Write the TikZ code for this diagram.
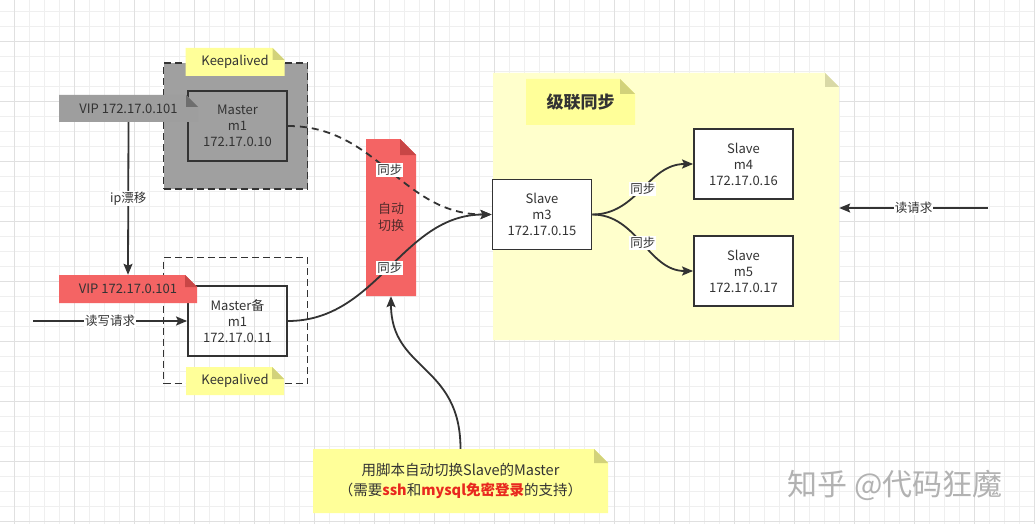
\documentclass[tikz,border=0pt]{standalone}
\usepackage{fontspec}
\setmainfont{Noto Sans CJK SC}
\usetikzlibrary{arrows.meta}

\definecolor{ink}{HTML}{333333}
\definecolor{gridminor}{HTML}{EFEFEF}
\definecolor{gridmajor}{HTML}{E0E0E0}
\definecolor{hagray}{HTML}{A0A0A0}
\definecolor{vipgray}{HTML}{9E9E9E}
\definecolor{vipgrayfold}{HTML}{6E6E6E}
\definecolor{vipred}{HTML}{F46464}
\definecolor{vipredfold}{HTML}{C84646}
\definecolor{paleyel}{HTML}{FFFFCC}
\definecolor{paleyelfold}{HTML}{D9D9A6}
\definecolor{noteyel}{HTML}{FFFF99}
\definecolor{noteyelfold}{HTML}{D2D27A}
\definecolor{keyred}{HTML}{E8281E}

\def\notefold{12pt}
\tikzset{
  notefold/.code={\def\notefold{#1}},
  note/.style 2 args={inner sep=0pt, text=ink, path picture={
      \fill[#1] (path picture bounding box.north west)
        -- ([xshift=-\notefold]path picture bounding box.north east)
        -- ([yshift=-\notefold]path picture bounding box.north east)
        -- (path picture bounding box.south east)
        -- (path picture bounding box.south west) -- cycle;
      \fill[#2] ([xshift=-\notefold]path picture bounding box.north east)
        -- ([xshift=-\notefold,yshift=-\notefold]path picture bounding box.north east)
        -- ([yshift=-\notefold]path picture bounding box.north east) -- cycle;}},
  server/.style={draw=ink, line width=1.8pt, minimum width=99pt, minimum height=70pt,
    align=center, text=ink, font=\fontsize{13}{16}\selectfont},
  hagroup/.style={draw=ink, dash pattern=on 7pt off 4pt, line width=1.8pt,
    minimum width=144pt, minimum height=126pt},
  link/.style={draw=ink, line width=1.8pt, -{Stealth[length=11pt,width=9pt,inset=2pt]}},
  tag/.style={fill=white, inner sep=1pt, text=ink, font=\fontsize{12.5}{14}\selectfont},
}

\begin{document}
\begin{tikzpicture}[x=1pt, y=-1pt, line cap=butt, line join=miter]

  %% ════ 画布 + 网格 ════
  \fill[white] (0,0) rectangle (1035,524);
  \foreach \gx in {14,29,...,1034} \draw[gridminor, line width=0.6pt] (\gx,0) -- (\gx,524);
  \foreach \gy in {11,26,...,524} \draw[gridminor, line width=0.6pt] (0,\gy) -- (1035,\gy);
  \foreach \gx in {14,74,...,1034} \draw[gridmajor, line width=0.7pt] (\gx,0) -- (\gx,524);
  \foreach \gy in {41,101,...,524} \draw[gridmajor, line width=0.7pt] (0,\gy) -- (1035,\gy);

  %% ════ 主库 Keepalived 组 ════
  \node[hagroup, fill=hagray] (haTop) at (235.5,126) {};
  \node[server, fill=hagray] (m1) at (237.5,126) {Master\\m1\\172.17.0.10};
  \node[note={noteyel}{noteyelfold}, minimum width=99pt, minimum height=28pt,
        font=\fontsize{13}{15}\selectfont] (kaTop) at (235,62) {Keepalived};

  \node[hagroup] (haBot) at (235.5,320.5) {};
  \node[server] (mb) at (237.5,321) {Master备\\m1\\172.17.0.11};
  \node[note={noteyel}{noteyelfold}, minimum width=98pt, minimum height=28pt,
        font=\fontsize{13}{15}\selectfont] (kaBot) at (235,381) {Keepalived};

  %% ════ VIP ════
  \node[note={vipgray}{vipgrayfold}, minimum width=139pt, minimum height=27pt,
        font=\fontsize{13}{15}\selectfont] (vipTop) at (128.5,108.5) {VIP 172.17.0.101};
  \node[note={vipred}{vipredfold}, minimum width=138pt, minimum height=28pt,
        font=\fontsize{13}{15}\selectfont] (vipBot) at (128,289) {VIP 172.17.0.101};
  \draw[link] (vipTop.south) -- node[tag] {ip漂移} (vipBot.north);

  \coordinate (rwIn) at (33,321);
  \draw[link] (rwIn) -- node[tag] {读写请求} (mb.west);

  %% ════ 自动切换 ════
  \node[note={vipred}{vipredfold}, notefold=16pt, minimum width=50pt, minimum height=157pt,
        align=center, text=ink!85!red, font=\fontsize{13}{17}\selectfont] (auto) at (391,217.5) {自动\\切换};

  %% ════ 级联同步 ════
  \node[note={paleyel}{paleyelfold}, notefold=14pt, minimum width=346pt, minimum height=267pt] (cascade) at (666,206.5) {};
  \node[note={noteyel}{noteyelfold}, notefold=15pt, minimum width=109pt, minimum height=46pt,
        font=\bfseries\fontsize{17}{20}\selectfont] (cascadeTitle) at (580.5,102) {级联同步};

  \node[server, fill=white] (m3) at (542,214.5) {Slave\\m3\\172.17.0.15};
  \node[server, fill=white] (m4) at (743.5,164) {Slave\\m4\\172.17.0.16};
  \node[server, fill=white] (m5) at (743.5,271) {Slave\\m5\\172.17.0.17};

  \draw[link, dash pattern=on 7pt off 5pt] (m1.east) .. controls +(90,0) and +(-90,0) .. node[tag] {同步} (m3.west);
  \draw[link] (mb.east) .. controls +(90,0) and +(-90,0) .. node[tag] {同步} (m3.west);
  \draw[link] (m3.east) .. controls +(45,0) and +(-45,0) .. node[tag] {同步} (m4.west);
  \draw[link] (m3.east) .. controls +(45,0) and +(-45,0) .. node[tag] {同步} (m5.west);

  \coordinate (rdIn) at (988,208);
  \draw[link] (rdIn) -- node[tag] {读请求} (rdIn -| cascade.east);

  %% ════ 脚本说明 ════
  \node[note={noteyel}{noteyelfold}, notefold=14pt, minimum width=295pt, minimum height=64pt,
        align=center, font=\fontsize{14.5}{20}\selectfont] (script) at (460.5,481)
        {用脚本自动切换Slave的Master\\（需要{\color{keyred}\bfseries ssh}和{\color{keyred}\bfseries mysql免密登录}的支持）};
  \draw[link] (script.north) .. controls +(0,-85) and +(0,75) .. (auto.south);

  %% ════ 水印 ════
  \node[text=black!30, font=\fontsize{30}{34}\selectfont] (wm) at (895,485) {知乎 @代码狂魔};

  \pgfresetboundingbox
  \path[use as bounding box] (0,0) rectangle (1035,524);
\end{tikzpicture}
\end{document}
